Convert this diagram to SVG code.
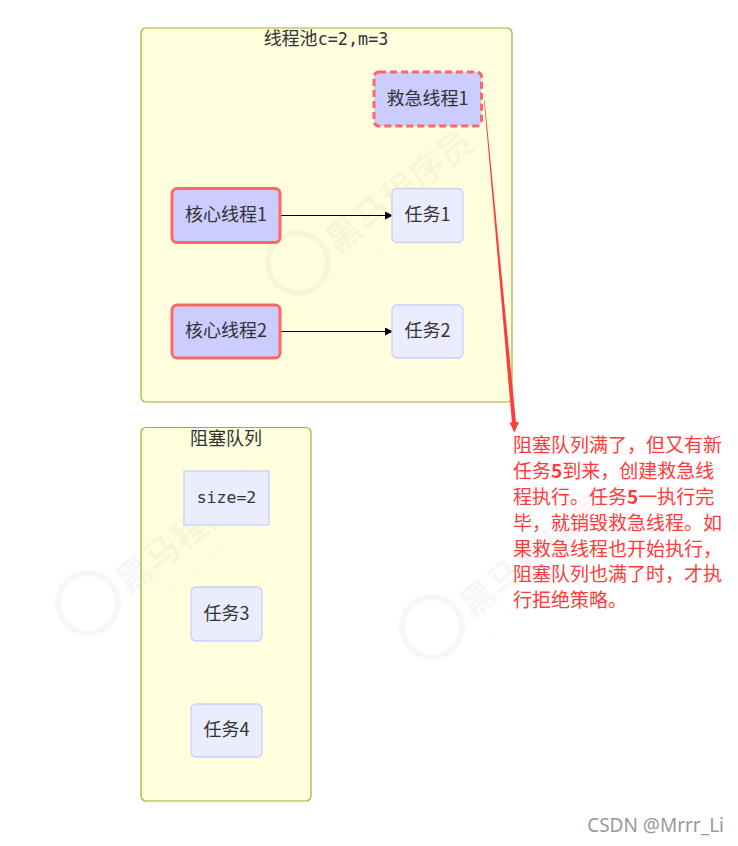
<svg xmlns="http://www.w3.org/2000/svg" width="738" height="846" viewBox="0 0 738 846">
<style>
text{font-family:"Liberation Sans","Noto Sans CJK SC",sans-serif;}
.cluster{fill:#ffffde;stroke:#aaaa33;stroke-width:1.2}
.title{font-family:"DejaVu Sans Mono","Noto Sans CJK SC",monospace;font-size:18px;fill:#333;text-anchor:middle}
.title tspan{font-size:16.800px}
.label{font-family:"Noto Sans CJK SC","DejaVu Sans",sans-serif;font-size:18px;fill:#333;text-anchor:middle}
.mono{font-family:"DejaVu Sans Mono",monospace;font-size:16.500px;fill:#333;text-anchor:middle}
.task{fill:#ececff;stroke:#ccccff;stroke-width:1.3}
.core{fill:#ccccff;stroke:#ff6666;stroke-width:3}
.note{font-family:"Noto Sans CJK SC",sans-serif;font-size:19px;fill:#ff3b3b}
.note tspan{font-weight:700}
.wm{font-family:"Noto Sans CJK SC",sans-serif;font-weight:900;font-size:35px;fill:#000;fill-opacity:.03}
.wms{font-size:14px;fill:#000;fill-opacity:.03}
.wmc{fill:none;stroke:#000;stroke-opacity:.03;stroke-width:6}
</style>
<defs>
<marker id="arr" markerWidth="8" markerHeight="8" refX="7" refY="4" orient="auto" markerUnits="userSpaceOnUse"><path d="M0 0L8 4L0 8z" fill="#000"/></marker>
<g id="wmk">
<circle class="wmc" cx="0" cy="0" r="30"/>
<text class="wm" x="40" y="-8" transform="rotate(-38 40 -8)">黑马程序员</text>
<text class="wms" x="52" y="16" transform="rotate(-38 52 16)">www.itheima.com</text>
</g>
</defs>
<rect width="738" height="846" fill="#fff"/>
<g id="pool"><rect class="cluster" x="141" y="28" width="371" height="374" rx="5"/><text class="title" x="326" y="45">线程池<tspan>c=2,m=3</tspan></text></g>
<g id="queue"><rect class="cluster" x="141" y="427.500" width="170" height="373.500" rx="5"/><text class="title" x="226" y="445">阻塞队列</text></g>
<use href="#wmk" x="298" y="263"/>
<use href="#wmk" x="88" y="603"/>
<use href="#wmk" x="432" y="627"/>
<g id="connectors">
<line x1="281" y1="215.500" x2="392" y2="215.500" stroke="#000" stroke-width="1.100" marker-end="url(#arr)"/>
<line x1="281" y1="331.500" x2="392" y2="331.500" stroke="#000" stroke-width="1.100" marker-end="url(#arr)"/>
<polygon points="484,100 484.600,100 516,423 512,423.500" fill="#ff3b3b"/>
<polygon points="514.300,432.500 509.500,422.500 519,422" fill="#ff3b3b"/>
</g>
<g id="rescue"><rect x="374" y="72" width="107.500" height="54" rx="5" fill="#ccccff" stroke="#ff6666" stroke-width="3" stroke-dasharray="7 4"/><text class="label" x="427.500" y="105">救急线程1</text></g>
<g id="core1"><rect class="core" x="172" y="188.500" width="108" height="54" rx="5"/><text class="label" x="226" y="221">核心线程1</text></g>
<g id="task1"><rect class="task" x="392" y="188.500" width="71" height="54" rx="5"/><text class="label" x="427.500" y="221">任务1</text></g>
<g id="core2"><rect class="core" x="172" y="305" width="108" height="53" rx="5"/><text class="label" x="226" y="337">核心线程2</text></g>
<g id="task2"><rect class="task" x="392" y="305" width="71" height="53" rx="5"/><text class="label" x="427.500" y="337">任务2</text></g>
<g id="size"><rect class="task" x="184" y="471" width="85" height="54"/><text class="mono" x="226.500" y="503">size=2</text></g>
<g id="task3"><rect class="task" x="191" y="587" width="71" height="54" rx="5"/><text class="label" x="226.500" y="620">任务3</text></g>
<g id="task4"><rect class="task" x="191" y="704" width="71" height="53" rx="5"/><text class="label" x="226.500" y="736">任务4</text></g>
<g id="note">
<text class="note" x="513" y="452">阻塞队列满了，但又有新</text>
<text class="note" x="513" y="478">任务<tspan>5</tspan>到来，创建救急线</text>
<text class="note" x="513" y="504">程执行。任务<tspan>5</tspan>一执行完</text>
<text class="note" x="513" y="530">毕，就销毁救急线程。如</text>
<text class="note" x="513" y="556">果救急线程也开始执行，</text>
<text class="note" x="513" y="581">阻塞队列也满了时，才执</text>
<text class="note" x="513" y="607">行拒绝策略。</text>
</g>
<text x="724" y="832" text-anchor="end" font-size="19" fill="#999" style="font-family:'Noto Sans','Liberation Sans',sans-serif">CSDN @Mrrr_Li</text>
</svg>
